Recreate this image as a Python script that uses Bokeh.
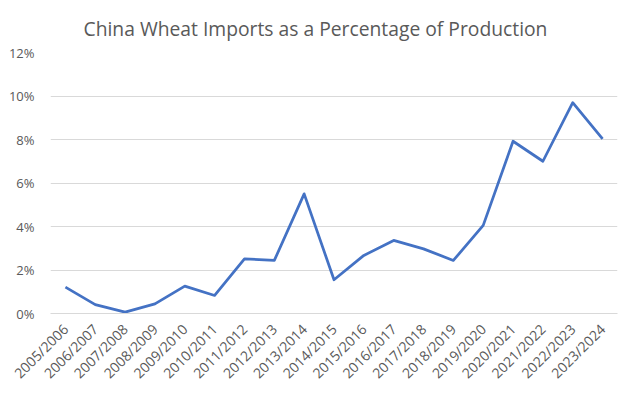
import math
from bokeh.plotting import figure
from bokeh.models import FactorRange, Range1d, FixedTicker, PrintfTickFormatter, ColumnDataSource
from bokeh.embed import file_html
from bokeh.resources import INLINE

seasons = ["2005/2006", "2006/2007", "2007/2008", "2008/2009", "2009/2010",
           "2010/2011", "2011/2012", "2012/2013", "2013/2014", "2014/2015",
           "2015/2016", "2016/2017", "2017/2018", "2018/2019", "2019/2020",
           "2020/2021", "2021/2022", "2022/2023", "2023/2024"]
import_pct = [1.21, 0.41, 0.06, 0.44, 1.26, 0.83, 2.51, 2.44, 5.50, 1.55,
              2.67, 3.36, 2.97, 2.44, 4.05, 7.92, 7.00, 9.69, 8.03]
y_ticks = [0, 2, 4, 6, 8, 10, 12]
title_text = "China Wheat Imports as a Percentage of Production"

FONT = "Open Sans"
GRAY = "#595959"

src = ColumnDataSource(data=dict(season=seasons, pct=import_pct))

p = figure(x_range=FactorRange(factors=seasons), y_range=Range1d(0, 12),
           frame_width=567, frame_height=261, output_backend="svg", toolbar_location=None,
           min_border_left=50, min_border_right=5, min_border_top=52, min_border_bottom=72)

p.title.text = title_text
p.title.align = "left"
p.title.offset = 33
p.title.text_font = FONT
p.title.text_font_size = "19.3px"
p.title.text_font_style = "normal"
p.title.text_color = GRAY
p.title.text_line_height = 0.6
p.title.standoff = 22

p.line(x="season", y="pct", source=src, line_color="#4472C4", line_width=2.75, line_join="round")

p.outline_line_color = None
p.xgrid.grid_line_color = None
p.ygrid.grid_line_color = "#d9d9d9"
p.ygrid.grid_line_width = 1

p.yaxis.ticker = FixedTicker(ticks=y_ticks)
p.yaxis.formatter = PrintfTickFormatter(format="%d%%")
p.yaxis.axis_line_color = None
p.yaxis.major_tick_line_color = None
p.yaxis.minor_tick_line_color = None
p.yaxis.major_tick_out = 0
p.yaxis.major_label_standoff = 16
p.yaxis.major_label_text_font = FONT
p.yaxis.major_label_text_font_size = "13px"
p.yaxis.major_label_text_color = GRAY

p.xaxis.axis_line_color = "#d9d9d9"
p.xaxis.major_tick_line_color = None
p.xaxis.minor_tick_line_color = None
p.xaxis.major_tick_out = 0
p.xaxis.major_label_standoff = 13
p.xaxis.major_label_orientation = math.pi / 4
p.xaxis.major_label_text_font = FONT
p.xaxis.major_label_text_font_size = "14px"
p.xaxis.major_label_text_color = GRAY

open("out.html", "w").write(file_html(p, INLINE))
